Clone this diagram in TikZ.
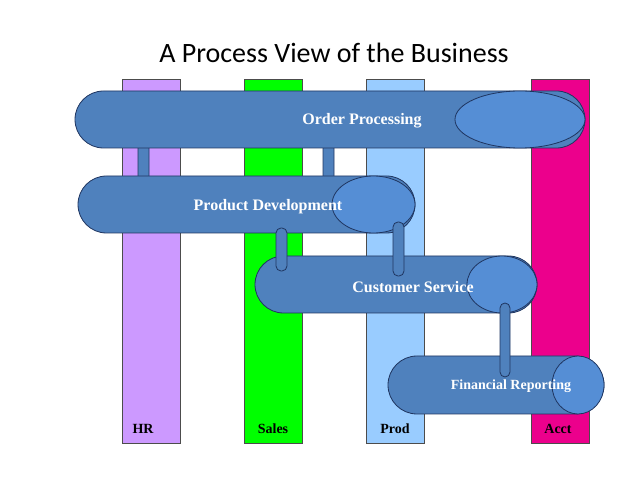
\documentclass[tikz,border=0pt]{standalone}
\usepackage{fontspec}
\setmainfont{Liberation Serif}
\newfontfamily\titlefont{Carlito}
\definecolor{pipeblue}{HTML}{4F81BD}
\definecolor{capblue}{HTML}{558ED5}
\definecolor{edgeblue}{HTML}{1F3560}
\definecolor{hrcol}{HTML}{CC99FF}
\definecolor{prodcol}{HTML}{99CCFF}
\tikzset{
  column/.style={draw=black!70, line width=0.6pt},
  pipe body/.style={fill=pipeblue, draw=edgeblue, line width=0.8pt},
  pipe end/.style={fill=capblue, draw=edgeblue, line width=0.8pt},
  tube/.style={fill=pipeblue, draw=edgeblue, line width=0.8pt, rounded corners=5pt},
  label/.style={text=white, font=\bfseries\fontsize{16}{18}\selectfont},
  dept/.style={font=\bfseries\fontsize{14}{16}\selectfont}
}
% \pipe{x1}{x2}{y1}{y2}{end x1}
\newcommand{\pipe}[5]{%
  \pgfmathsetmacro{\pr}{(#4-#3)/2}%
  \pgfmathsetmacro{\er}{(#2-#5)/2}%
  \draw[pipe body, rounded corners=\pr pt] (#1,#3) rectangle (#2,#4);
  \draw[pipe end] ({(#5+#2)/2},{(#3+#4)/2}) ellipse ({\er pt} and {\pr pt});
}
\begin{document}
\begin{tikzpicture}[x=1pt,y=-1pt]
\useasboundingbox (0,0) rectangle (638,478);
\node[font=\titlefont\fontsize{28}{32}\selectfont] (title) at (334,53) {A Process View of the Business};

\draw[column, fill=hrcol] (122,79) rectangle (180,443);
\draw[column, fill=green] (244,79) rectangle (302,443);
\draw[column, fill=prodcol] (366,79) rectangle (424,443);
\draw[column, fill=magenta] (531,79) rectangle (589,443);
\node[dept] (hr) at (143,429) {HR};
\node[dept] (sales) at (273,429) {Sales};
\node[dept] (prod) at (395,429) {Prod};
\node[dept] (acct) at (558,429) {Acct};

\draw[tube] (138,140) rectangle (149,185);
\draw[tube] (323,140) rectangle (334,185);

\pipe{75}{585}{91}{148}{455}
\node[label] (order) at (362,121) {Order Processing};
\pipe{78}{415}{176}{233}{332}
\node[label] (develop) at (268,207) {Product Development};
\pipe{255}{537}{256}{313}{467}
\node[label] (service) at (413,287) {Customer Service};
\pipe{388}{604}{356}{414}{552}
\node[label, font=\bfseries\fontsize{14}{16}\selectfont] (finance) at (511,386) {Financial Reporting};

\draw[tube] (276,228) rectangle (287,271);
\draw[tube] (393,222) rectangle (404,276);
\draw[tube] (500,303) rectangle (510,377);
\end{tikzpicture}
\end{document}
